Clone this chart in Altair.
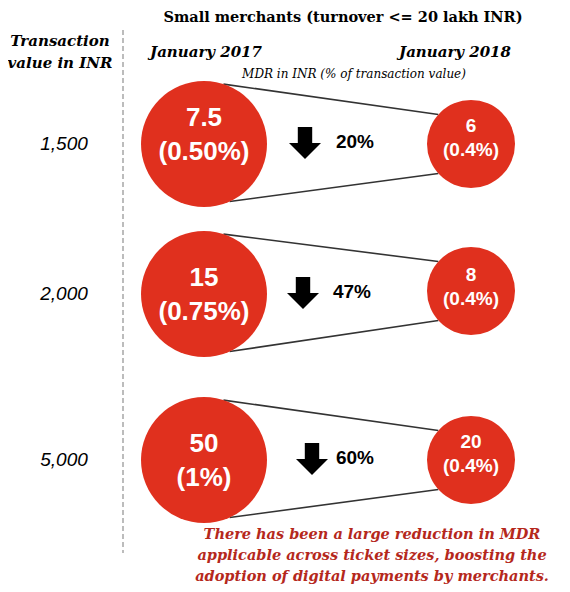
import math
import altair as alt
import pandas as pd

# ---- data ----
txn_values = ["1,500", "2,000", "5,000"]
mdr_2017 = ["7.5", "15", "50"]
pct_2017 = ["(0.50%)", "(0.75%)", "(1%)"]
mdr_2018 = ["6", "8", "20"]
pct_2018 = ["(0.4%)", "(0.4%)", "(0.4%)"]
reduction = ["20%", "47%", "60%"]

title_text = "Small merchants (turnover <= 20 lakh INR)"
left_head = ["Transaction", "value in INR"]
col_heads = ["January 2017", "January 2018"]
sub_head = "MDR in INR (% of transaction value)"
footer = ["There has been a large reduction in MDR",
          "applicable across ticket sizes, boosting the",
          "adoption of digital payments by merchants."]

# ---- layout (pixels on the page) ----
W, H = 554, 576
row_y = [144, 294, 460]
small_row_y = [144, 291, 460]
big_x, big_r = 204, 63
small_x, small_r = 471, 44
big_label_y = [135, 295, 461]
small_label_y = [138, 287, 454]
arrow_x = [305, 303, 312]
pct_x = [355, 352, 355]

RED = "#E0301E"
DARK_RED = "#B5281C"
SERIF = "DejaVu Serif"
SANS = "Liberation Sans"

X = alt.X("x:Q", scale=alt.Scale(domain=[8, 8 + W], nice=False, zero=False), axis=None)
Y = alt.Y("y:Q", scale=alt.Scale(domain=[8 + H, 8], nice=False, zero=False), axis=None)


def pt(cx, cy, r, deg):
    a = math.radians(deg)
    return cx + r * math.cos(a), cy + r * math.sin(a)


# connector lines from the 2017 circle to the 2018 circle
conn = []
for y, ys in zip(row_y, small_row_y):
    for a1, a2 in [(-72, -138), (66, 138)]:
        x1, y1 = pt(big_x, y, big_r, a1)
        x2, y2 = pt(small_x, ys, small_r, a2)
        conn.append({"x": x1, "y": y1, "x2": x2, "y2": y2})
lines = alt.Chart(pd.DataFrame(conn)).mark_rule(color="#333333", strokeWidth=1.6).encode(
    X, Y, x2="x2:Q", y2="y2:Q")

# vega symbol size is the area of the bounding square
circ = pd.DataFrame(
    [{"x": big_x, "y": y, "s": (2 * big_r) ** 2} for y in row_y]
    + [{"x": small_x, "y": y, "s": (2 * small_r) ** 2} for y in small_row_y])
circles = alt.Chart(circ).mark_circle(color=RED, opacity=1).encode(
    X, Y, size=alt.Size("s:Q", scale=None, legend=None))

# white labels inside the circles
big_lab = []
small_lab = []
for i in range(3):
    big_lab.append({"x": big_x, "y": big_label_y[i] - 17, "t": mdr_2017[i]})
    big_lab.append({"x": big_x, "y": big_label_y[i] + 17, "t": pct_2017[i]})
    small_lab.append({"x": small_x, "y": small_label_y[i] - 12, "t": mdr_2018[i]})
    small_lab.append({"x": small_x, "y": small_label_y[i] + 12, "t": pct_2018[i]})
big_text = alt.Chart(pd.DataFrame(big_lab)).mark_text(
    font=SANS, fontSize=26, fontWeight="bold", color="white", baseline="middle").encode(X, Y, text="t:N")
small_text = alt.Chart(pd.DataFrame(small_lab)).mark_text(
    font=SANS, fontSize=19, fontWeight="bold", color="white", baseline="middle").encode(X, Y, text="t:N")

# down arrows and the reduction
arrow_path = "M-0.45,-1 L0.45,-1 L0.45,0 L1,0 L0,1 L-1,0 L-0.45,0 Z"
arrows = alt.Chart(pd.DataFrame({"x": arrow_x, "y": [y - 1 for y in row_y]})).mark_point(
    shape=arrow_path, filled=True, color="black", opacity=1, size=1024, strokeWidth=0).encode(X, Y)
red_text = alt.Chart(pd.DataFrame({"x": pct_x, "y": [y - 2 for y in row_y], "t": reduction})).mark_text(
    font=SANS, fontSize=19, fontWeight="bold", color="black", baseline="middle").encode(X, Y, text="t:N")

# transaction values on the left
txn = alt.Chart(pd.DataFrame({"x": [64] * 3, "y": row_y, "t": txn_values})).mark_text(
    font=SANS, fontSize=19, fontStyle="italic", color="black", baseline="middle").encode(X, Y, text="t:N")

divider = alt.Chart(pd.DataFrame({"x": [123], "y": [30], "y2": [553]})).mark_rule(
    color="#999999", strokeWidth=1.3, strokeDash=[5, 3]).encode(X, Y, y2="y2:Q")

# headings
title = alt.Chart(pd.DataFrame({"x": [343], "y": [18], "t": [title_text]})).mark_text(
    font=SERIF, fontSize=14.5, fontWeight="bold", color="black", baseline="middle").encode(X, Y, text="t:N")
lhead = alt.Chart(pd.DataFrame({"x": [60, 60], "y": [41, 63], "t": left_head})).mark_text(
    font=SERIF, fontSize=15, fontWeight="bold", fontStyle="italic", color="black",
    baseline="middle").encode(X, Y, text="t:N")
chead = alt.Chart(pd.DataFrame({"x": [206, 455], "y": [52, 52], "t": col_heads})).mark_text(
    font=SERIF, fontSize=15, fontWeight="bold", fontStyle="italic", color="black",
    baseline="middle").encode(X, Y, text="t:N")
shead = alt.Chart(pd.DataFrame({"x": [354], "y": [74], "t": [sub_head]})).mark_text(
    font=SERIF, fontSize=12, fontStyle="italic", color="black", baseline="middle").encode(X, Y, text="t:N")
foot = alt.Chart(pd.DataFrame({"x": [372] * 3, "y": [535, 556, 577], "t": footer})).mark_text(
    font=SERIF, fontSize=14.5, fontWeight="bold", fontStyle="italic", color=DARK_RED,
    baseline="middle").encode(X, Y, text="t:N")

chart = alt.layer(
    divider, lines, circles, big_text, small_text, arrows, red_text, txn,
    title, lhead, chead, shead, foot
).properties(
    width=W, height=H, padding=0, autosize=alt.AutoSizeParams(type="none")
).configure_view(stroke=None)

chart.save("out.html", embed_options={"renderer": "svg", "actions": False})
